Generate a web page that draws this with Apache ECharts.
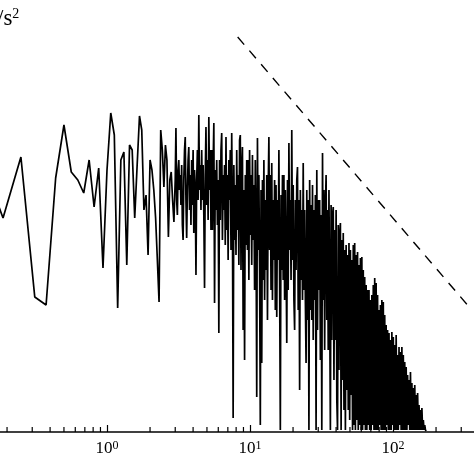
<!DOCTYPE html>
<html>
<head>
<meta charset="utf-8">
<script src="https://cdn.jsdelivr.net/npm/echarts@6/dist/echarts.min.js"></script>
<style>
html, body { margin: 0; padding: 0; background: #fff; }
#chart { width: 474px; height: 474px; }
</style>
</head>
<body>
<div id="chart"></div>
<script>
// log10 of the spectrum
// low part: one value per bin (1/16 Hz), bins 2..48
const binHz = 1 / 16
const firstBin = 2
const lowLog = [
  -1.18, -1.86, -1.25, -2.65, -2.73, -1.46, -0.93, -1.40, -1.48, -1.61, -1.28, -1.75, -1.36,
  -2.36, -1.38, -0.81, -1.03, -2.76, -1.28, -1.20, -2.33, -1.13, -1.18,
  -1.86, -1.33, -0.84, -0.98, -1.78, -1.63, -2.23, -1.28, -1.38, -1.58,
  -1.86, -2.28, -2.70, -0.98, -1.18, -1.55, -1.13, -1.28, -2.05, -1.48,
  -1.40, -1.68, -1.90, -1.48
]
// high part is too dense to read bin by bin: one value per 1/200 decade from 3 Hz
const hiStartHz = 3
const hiStepDec = 1 / 200
const hiLog = [
  -0.96, -1.68, -1.83, -1.38, -1.28, -1.58, -1.43, -1.73, -1.33, -1.93,
  -2.08, -1.48, -1.18, -1.05, -1.68, -2.06, -1.58, -1.28, -1.15, -1.78,
  -1.43, -1.93, -1.28, -1.73, -1.18, -2.01, -1.38, -1.58, -2.43, -1.48,
  -1.18, -1.68, -0.83, -1.58, -1.33, -1.78, -1.18, -1.68, -1.33, -1.83,
  -2.56, -1.43, -0.95, -1.73, -1.28, -1.88, -0.85, -1.58, -1.18, -1.98,
  -1.18, -1.98, -1.33, -0.91, -2.71, -1.38, -1.78, -1.28, -1.93, -1.48,
  -3.01, -1.28, -1.88, -1.18, -1.01, -2.08, -1.43, -1.78, -1.33, -2.13,
  -1.05, -1.98, -1.43, -2.28, -1.28, -1.68, -1.18, -2.18, -1.01, -1.78,
  -3.86, -1.33, -2.08, -1.53, -2.23, -1.18, -1.98, -1.43, -2.33, -1.08,
  -1.03, -2.38, -1.38, -1.15, -2.98, -1.58, -3.28, -1.43, -2.13, -1.28,
  -2.18, -1.28, -2.48, -1.18, -2.03, -1.43, -2.33, -1.23, -2.08, -1.53,
  -2.58, -1.28, -1.98, -3.65, -1.06, -2.18, -1.43, -2.38, -3.93, -1.58,
  -3.31, -1.48, -2.48, -1.28, -2.68, -1.68, -2.38, -1.43, -2.88, -1.58,
  -1.05, -2.18, -1.43, -2.58, -1.31, -2.68, -1.68, -2.28, -1.48, -2.78,
  -1.53, -2.85, -1.68, -2.28, -1.18, -2.48, -3.98, -1.63, -2.38, -1.43,
  -2.48, -1.43, -2.68, -1.58, -2.28, -3.11, -1.48, -2.58, -1.11, -2.18,
  -1.68, -2.48, -0.98, -2.28, -1.53, -2.68, -2.98, -1.68, -2.38, -1.48,
  -1.35, -2.78, -1.68, -3.58, -1.58, -2.48, -1.78, -2.68, -1.31, -2.58,
  -1.78, -2.68, -3.31, -1.58, -2.88, -1.68, -3.98, -1.48, -2.78, -1.73,
  -2.88, -1.53, -3.08, -1.78, -2.68, -1.63, -3.98, -1.38, -2.98, -1.68,
  -2.58, -1.68, -3.28, -1.83, -3.98, -1.21, -2.68, -1.58, -3.18, -1.78,
  -1.43, -2.88, -1.78, -3.18, -1.58, -2.68, -3.98, -1.73, -3.08, -1.83,
  -1.75, -3.48, -1.98, -3.08, -1.78, -3.68, -3.98, -1.93, -3.38, -2.03,
  -1.91, -3.98, -2.08, -3.48, -2.01, -3.78, -2.18, -3.98, -2.13, -3.58,
  -2.23, -3.78, -2.11, -3.88, -2.18, -3.63, -2.28, -3.98, -2.13, -3.93,
  -2.11, -3.98, -2.23, -3.88, -2.20, -3.98, -2.33, -3.93, -2.26, -3.98,
  -2.25, -3.98, -2.38, -3.93, -2.45, -3.98, -2.53, -3.98, -2.58, -3.93,
  -2.58, -3.98, -2.68, -3.98, -2.63, -3.93, -2.53, -3.98, -2.46, -3.98,
  -2.51, -3.98, -2.63, -3.98, -2.78, -3.93, -2.73, -3.98, -2.68, -3.98,
  -2.70, -3.98, -2.83, -3.98, -2.93, -3.93, -2.98, -3.98, -3.01, -3.98,
  -3.08, -3.98, -3.00, -3.93, -3.05, -3.98, -3.13, -3.98, -3.03, -3.98,
  -3.23, -3.98, -3.15, -3.93, -3.20, -3.98, -3.15, -3.98, -3.23, -3.98,
  -3.30, -3.98, -3.35, -3.98, -3.43, -3.93, -3.48, -3.98, -3.40, -3.98,
  -3.51, -3.98, -3.56, -3.98, -3.53, -3.98, -3.63, -3.98, -3.61, -3.98,
  -3.73, -3.98, -3.78, -3.98, -3.76, -3.98, -3.88, -3.98, -3.93, -3.98,
  -3.99
]

// -5/3 reference line
const refHz = [8.2, 346]
const refLog = [-0.05, -2.76]

const minorTicks = [
  0.2, 0.3, 0.4, 0.5, 0.6, 0.7, 0.8, 0.9,
  2, 3, 4, 5, 6, 7, 8, 9,
  20, 30, 40, 50, 60, 70, 80, 90,
  200, 300, 400, 500, 600, 700, 800, 900
]

const serif = '"Liberation Serif", "DejaVu Serif", serif'

const spectrum = []
lowLog.forEach(function(v, i) {
  spectrum.push([(firstBin + i) * binHz, Math.pow(10, v)])
})
hiLog.forEach(function(v, i) {
  spectrum.push([hiStartHz * Math.pow(10, (i + 1) * hiStepDec), Math.pow(10, v)])
})
const refData = refHz.map(function(f, i) {
  return [f, Math.pow(10, refLog[i])]
})

const chart = echarts.init(document.getElementById('chart'))
chart.setOption({
  animation: false,
  backgroundColor: '#fff',
  grid: {
    left: -36,
    right: -62,
    top: 32,
    bottom: 42,
    containLabel: false,
    outerBoundsMode: 'none'
  },
  xAxis: {
    type: 'log',
    logBase: 10,
    min: 0.1,
    max: 1000,
    splitNumber: 4,
    axisLine: { lineStyle: { color: '#000', width: 1.5 } },
    axisTick: { inside: true, length: 7, lineStyle: { color: '#000', width: 1.2 } },
    splitLine: { show: false },
    axisLabel: {
      margin: 8,
      color: '#000',
      fontFamily: serif,
      fontSize: 17,
      formatter: function(v) {
        return '10{s|' + Math.round(Math.log10(v)) + '}'
      },
      rich: {
        s: { fontFamily: serif, fontSize: 12, color: '#000', verticalAlign: 'top', padding: [0, 0, 6, 0] }
      }
    }
  },
  yAxis: {
    type: 'log',
    logBase: 10,
    min: 1e-4,
    max: 1,
    show: false
  },
  graphic: [
    {
      type: 'text',
      x: -3,
      y: 7,
      style: {
        text: '/s{s|2}',
        fill: '#000',
        font: '23px ' + serif,
        rich: {
          s: { fontSize: 14, fontFamily: serif, fill: '#000', verticalAlign: 'top', padding: [0, 0, 8, 0] }
        }
      }
    }
  ],
  series: [
    {
      type: 'line',
      data: spectrum,
      showSymbol: false,
      symbol: 'none',
      lineStyle: { color: '#000', width: 1.7 },
      z: 2
    },
    {
      type: 'line',
      data: refData,
      showSymbol: false,
      symbol: 'none',
      lineStyle: { color: '#000', width: 1.4, type: [10, 8] },
      z: 3
    },
    {
      type: 'custom',
      data: minorTicks.map(function(f) { return [f] }),
      renderItem: function(params, api) {
        const p = api.coord([api.value(0), 1e-4])
        return {
          type: 'line',
          shape: { x1: p[0], y1: p[1], x2: p[0], y2: p[1] - 5 },
          style: { stroke: '#000', lineWidth: 1.2 }
        }
      },
      z: 4
    }
  ]
})
</script>
</body>
</html>
